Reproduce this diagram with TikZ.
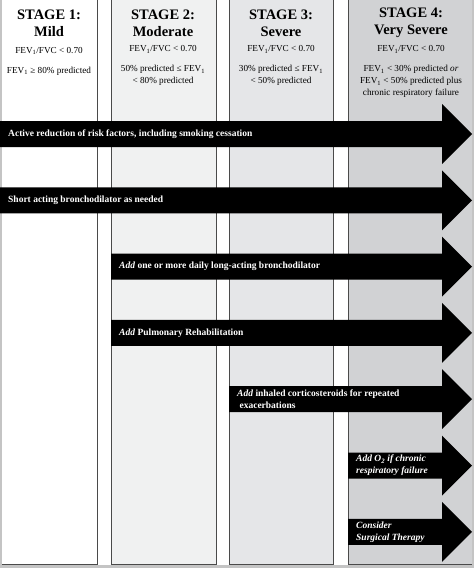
\documentclass[tikz,border=0pt]{standalone}
\usepackage{fontspec}
\setmainfont{Liberation Serif}
\usetikzlibrary{positioning}

\definecolor{stagetwo}{HTML}{F0F1F1}
\definecolor{stagethree}{HTML}{E5E6E8}
\definecolor{stagefour}{HTML}{D1D2D4}
\definecolor{rulegray}{HTML}{4A4A4A}
\definecolor{edgegray}{HTML}{C4C4C4}

\begin{document}
\begin{tikzpicture}[x=1pt,y=1pt,
  column/.style={draw=rulegray,line width=1pt},
  stagetitle/.style={font=\fontsize{14.5}{17}\selectfont\bfseries,align=center},
  stagetext/.style={font=\fontsize{9.2}{12}\selectfont,align=center},
  bartext/.style={font=\fontsize{9.5}{12}\selectfont\bfseries,text=white,align=left,anchor=west}]
\tikzstyle{every node}+=[inner sep=0pt]
\useasboundingbox (0,0) rectangle (474,-568);
\clip (0,0) rectangle (474,-568);
\fill [white] (0,0) rectangle (474,-568);
\draw [column,fill=white] (1,4) rectangle (97,-564);
\draw [column,fill=stagetwo] (111,4) rectangle (216,-564);
\draw [column,fill=stagethree] (229,4) rectangle (333,-564);
\draw [column,fill=stagefour] (348,4) rectangle (472,-564);
\draw [edgegray,line width=2.5pt] (1,4) -- (1,-566.5) -- (473,-566.5) -- (473,4);
\node [stagetitle] (t1) at (49,-23) {STAGE 1:\\Mild};
\node [stagetitle] (t2) at (163,-23) {STAGE 2:\\Moderate};
\node [stagetitle] (t3) at (281,-23) {STAGE 3:\\Severe};
\node [stagetitle] (t4) at (411,-23) {STAGE 4:\\Very Severe};
\node [stagetext] (r1) at (49,-51) {FEV\textsubscript{1}/FVC < 0.70};
\node [stagetext] (r2) at (163,-49.5) {FEV\textsubscript{1}/FVC < 0.70};
\node [stagetext] (r3) at (281,-49.5) {FEV\textsubscript{1}/FVC < 0.70};
\node [stagetext] (r4) at (411,-49.5) {FEV\textsubscript{1}/FVC < 0.70};
\node [stagetext,below=12pt of r1] (c1) {FEV\textsubscript{1} ≥ 80\% predicted};
\node [stagetext,below=12pt of r2] (c2) {50\% predicted ≤ FEV\textsubscript{1}\\< 80\% predicted};
\node [stagetext,below=12pt of r3] (c3) {30\% predicted ≤ FEV\textsubscript{1}\\< 50\% predicted};
\node [stagetext,below=12pt of r4] (c4) {FEV\textsubscript{1} < 30\% predicted \textit{or}\\FEV\textsubscript{1} < 50\% predicted plus\\chronic respiratory failure};
\foreach \x/\y in {0/134,0/200.3,111/266.6,111/332.9,229/399.2,348/465.5,348/531.8}
  \fill [black] (\x,-\y+13) -- (442,-\y+13) -- (442,-\y+30) -- (472,-\y) -- (442,-\y-30) -- (442,-\y-13) -- (\x,-\y-13) -- cycle;
\node [bartext] (a1) at (8,-134) {Active reduction of risk factors, including smoking cessation};
\node [bartext] (a2) at (8,-200.3) {Short acting bronchodilator as needed};
\node [bartext] (a3) at (119,-266.6) {\textit{Add} one or more daily long-acting bronchodilator};
\node [bartext] (a4) at (119,-332.9) {\textit{Add} Pulmonary Rehabilitation};
\node [bartext] (a5) at (237,-399.2) {\textit{Add} inhaled corticosteroids for repeated\\\ exacerbations};
\node [bartext,font=\fontsize{9.5}{12}\selectfont\bfseries\itshape] (a6) at (356,-465.5) {Add O\textsubscript{2} if chronic\\respiratory failure};
\node [bartext,font=\fontsize{9.5}{12}\selectfont\bfseries\itshape] (a7) at (356,-531.8) {Consider\\Surgical Therapy};
\end{tikzpicture}
\end{document}
